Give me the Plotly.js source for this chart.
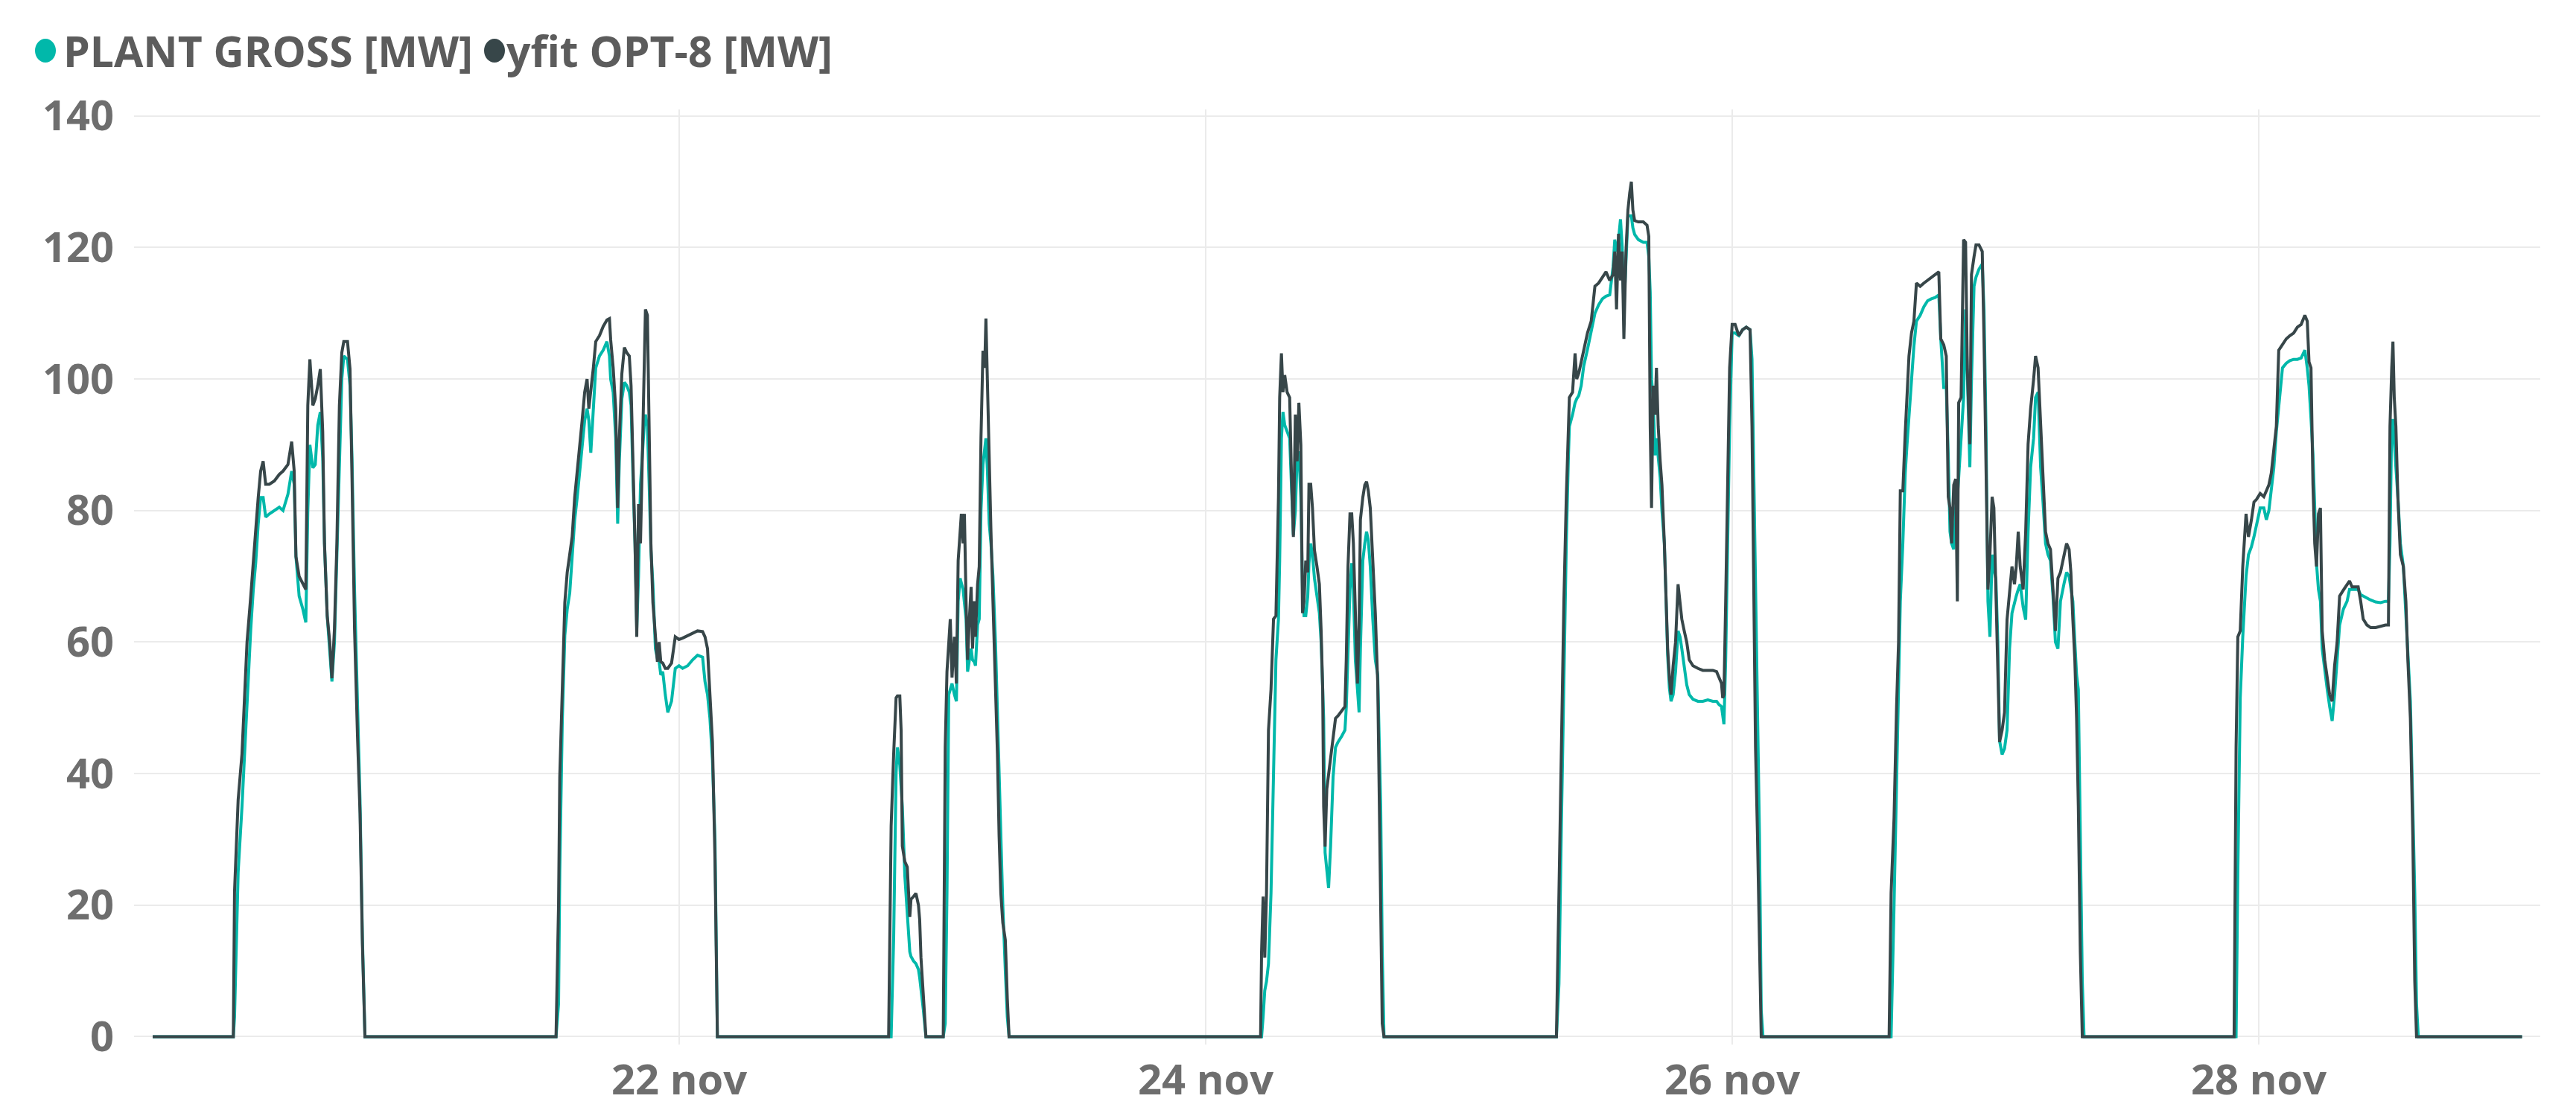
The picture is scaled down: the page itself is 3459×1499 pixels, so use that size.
<!DOCTYPE html>
<html>
<head>
<meta charset="utf-8">
<script src="https://cdn.plot.ly/plotly-3.0.1.min.js"></script>
<style>
  html, body { margin: 0; padding: 0; background: #ffffff; }
  #chart { width: 3459px; height: 1499px; }
</style>
</head>
<body>
<div id="chart"></div>
<script>
// ---- Data (hours since 20 Nov 00:00, values in MW) ----
const seriesNames = ["PLANT GROSS [MW]", "yfit OPT-8 [MW]"];
const tickDates = ["2023-11-22", "2023-11-24", "2023-11-26", "2023-11-28"];
const tickLabels = ["22 nov", "24 nov", "26 nov", "28 nov"];
const yTicks = [0, 20, 40, 60, 80, 100, 120, 140];

const day1Hours = [0,7.35,7.46,7.79,8.14,8.37,8.60,8.94,9.17,9.39,9.62,9.84,10.07,10.30,10.63,11.09,11.54,11.88,12.33,12.67,12.90,13.06,13.35,13.69,13.96,14.14,14.33,14.60,14.82,15.05,15.28,15.50,15.66,15.91,16.14,16.34,16.57,16.79,17.02,17.24,17.42,17.76,17.99,18.17,18.40,18.67,18.90,19.12,19.35];
const day1Yfit  = [0,0,22,36,43,52,60,67,73,77,82,86,87.5,84,84,84.5,85.5,86,87,90.5,86,73,70,69,68,96,103,96,97,99,101.5,92,75,64,60,54.5,62,75,96,104,105.7,105.7,101.5,85,62,45.7,34,14,0];
const day1Plant = [0,0,3,25,35,43,52,62,68,72,78,82,82,79,79.5,80,80.5,80,82.5,86,84,73,67,65,63,80,90,86.5,87,93,95,88,75,64,58,54,60,73,90,100,103.5,103,99,88,68,50,36,15,0];

const day2Hours = [36.77,37.00,37.11,37.34,37.57,37.79,38.02,38.24,38.47,38.70,38.92,39.15,39.38,39.60,39.76,39.94,40.17,40.39,40.73,41.07,41.41,41.64,41.75,41.98,42.21,42.39,42.54,42.77,43.00,43.22,43.45,43.61,43.79,43.97,44.13,44.29,44.47,44.69,44.81,44.92,45.10,45.26,45.42,45.60,45.83,46.01,46.17,46.32,46.50,46.73,46.96,47.30,47.64,47.98,48.31,48.77,49.22,49.67,50.13,50.35,50.58,50.80,51.03,51.26,51.48];
const day2Yfit  = [0,20,39.5,54.6,66,70.6,73,76,82,85.7,89,93.7,98,100,95.5,98,101.7,105.7,106.6,108,109,109.2,106,101.7,95.5,80.4,91,100.8,104.8,104,103.5,99,87.5,75,60.8,81,75,91,103.5,110.6,109.7,91,75,66,60.8,57,60,57,56.8,56,56,56.8,60.8,60.4,60.6,61,61.3,61.7,61.6,60.8,59,52,44.8,27,0];
const day2Plant = [0,5,25,48,61,65,67.5,72.4,78.6,82,85.7,89,93.7,95.5,93.7,88.8,96,101.7,103.5,104.4,105.7,103.5,100,98,91,78,87.5,97,99.5,99,98,96,84.8,75,62,70,84,91,93,94.6,92.8,84,74,68.8,59,57.5,57,55,55.5,52,49.3,51,56,56.4,56,56.4,57.3,58,57.7,54,52,48.4,42,30,0];

const day3Hours = [67.09,67.32,67.55,67.66,67.77,67.89,68.11,68.23,68.34,68.57,68.79,69.02,69.13,69.36,69.58,69.81,69.92,70.04,70.26,70.49,72.07,72.25,72.41,72.57,72.71,72.87,73.09,73.27,73.43,73.61,73.72,73.88,74.00,74.15,74.29,74.45,74.61,74.74,74.90,75.01,75.20,75.35,75.51,75.69,75.85,75.96,76.10,76.26,76.42,76.60,76.83,77.01,77.16,77.32,77.50,77.73,77.91,78.07];
const day3Yfit  = [0,32,43,47,51.5,51.8,51.8,46.6,29,26.6,25.8,18.2,20.9,21.3,21.8,20,17.8,12,6.7,0,0,44,55.5,60,63.5,54.6,60.8,53.7,72.4,76.8,79.5,75,79.5,66.2,57.3,63.5,68.4,59,66.2,60.8,68.8,71.5,91,104.3,101.7,109.2,99,84,76.8,66.2,53.7,43,30.6,21.8,17.3,14.7,5.8,0];
const day3Plant = [0,0,15,30.6,40,44,41.3,38,35,24.4,17.8,12.9,12.2,11.5,11.1,10.2,9,7.5,4,0,0,2,21.8,52,53,53.7,52,51,66.2,69.7,69,68,66,63.5,55.5,57,59,57.3,57,56.4,62.6,63.5,80,87,89,91,86,78,75,70,60,48.4,38,28,20,10,3,0];

const day4Hours = [101.00,101.09,101.23,101.38,101.54,101.72,101.95,102.18,102.40,102.63,102.74,102.90,103.04,103.20,103.42,103.65,103.81,103.99,104.17,104.33,104.49,104.67,104.82,104.96,105.12,105.30,105.41,105.57,105.73,105.91,106.14,106.36,106.52,106.66,106.75,106.88,107.04,107.20,107.38,107.61,107.83,108.06,108.40,108.69,108.81,108.97,109.15,109.31,109.46,109.64,109.83,109.98,110.10,110.32,110.50,110.66,110.82,111.00,111.23,111.46,111.68,111.84,111.95,112.09,112.25];
const day4Yfit  = [0,12.9,21.3,12,21.8,46.6,52.8,63.5,64,82,97.2,103.9,98,100.6,98,97.2,85.7,76,94.6,87.5,96.4,90,64.4,66.2,72.4,70.6,84,84,80.4,74,71.5,68.8,61.7,52.8,35,28.9,37.7,40,42.5,45,48.4,48.8,49.5,50.2,57.3,71.5,79.5,79.5,75,64.4,53.7,62.6,78.6,82,83.9,84.4,83,80.4,73.3,64.4,53.7,35,14.7,2,0];
const day4Plant = [0,0,3,7,8.4,11.1,21.8,39.5,57.3,63.5,72.4,91,95,93,91.9,91,84,76.3,80,88,89,82,68,64,64,67,72,75,73.3,69.7,67,64.4,60,54,48.4,28,25.3,22.6,28.9,39.5,44,44.8,45.7,46.6,50,57.3,68,72,68,57.3,52,49.3,59,72.4,75,76.8,75.5,71.5,63.5,57.3,55,45,35,12.9,0];

const day5Hours = [127.97,128.20,128.42,128.65,128.87,129.06,129.15,129.44,129.67,129.82,130.01,130.23,130.46,130.80,131.14,131.48,131.82,132.16,132.49,132.83,133.13,133.29,133.45,133.63,133.81,133.97,134.12,134.31,134.49,134.65,134.80,134.94,135.10,135.44,135.89,136.23,136.39,136.52,136.64,136.79,136.95,137.09,137.25,137.43,137.59,137.81,137.97,138.11,138.27,138.42,138.61,138.83,139.06,139.24,139.40,139.62,139.85,140.08,140.42,140.87,141.32,141.77,142.23,142.57,142.79,143.02,143.13,143.24,143.40,143.58,143.76,143.99,144.26,144.60,144.94,145.28,145.62,145.80,145.96,146.12,146.30,146.48,146.64,146.80];
const day5Yfit  = [0,21.8,44,66.2,82,92.8,97.2,98,103.9,100,100.9,102.6,104.4,107,108.8,114.1,114.6,115.5,116.3,115,115.9,119.4,110.6,122.1,115,119.4,106.1,119.4,125.7,128.3,130,125.7,124.1,123.9,123.9,123.4,121.7,92.8,80.4,99,94.6,101.7,92.8,87.5,83.9,75,66.2,59,54.6,52,56.4,60,68.8,66.2,63.5,61.7,60,57.3,56.4,56,55.7,55.7,55.7,55.5,54.6,53.7,51.5,52,66.2,85.7,101.7,108.3,108.3,106.6,107.5,107.9,107.5,92.8,66.2,44,30.6,15.5,0,0];
const day5Plant = [0,8,32,55,75,88,92.8,94.6,96.4,97,97.5,99,102,104.5,107.5,110,111.3,112.2,112.6,112.8,117,121.2,119.4,121.2,124.3,120,110.6,119.4,124.8,124.8,124.8,123,122,121.2,120.8,120.8,118.6,113.2,100,97.2,88.4,91,88.4,85,80,75,66.2,58,53,51,52,55.5,61.7,60.8,59,56.5,53.5,52,51.3,51,51,51.2,51,51,50.5,50.2,49,47.5,57.3,78.6,92.8,107,107,106.6,107.5,107.9,107.5,103,85,66.2,52.8,30.6,4,0];

const day6Hours = [158.30,158.48,158.75,158.98,159.16,159.32,159.55,159.77,159.93,160.11,160.34,160.56,160.79,161.13,161.47,161.81,162.15,162.49,162.83,163.01,163.28,163.51,163.69,163.85,164.00,164.19,164.37,164.52,164.64,164.86,165.09,165.27,165.43,165.66,165.81,166.04,166.22,166.49,166.79,166.95,167.13,167.31,167.49,167.69,167.85,168.03,168.21,168.37,168.60,168.82,169.05,169.28,169.50,169.73,169.89,170.07,170.25,170.52,170.75,170.97,171.20,171.47,171.65,171.88,172.11,172.33,172.56,172.78,173.01,173.24,173.46,173.69,173.92,174.26,174.48,174.71,174.87,175.05,175.23,175.39,175.55,175.73,175.91,176.07];
const day6Yfit  = [0,21.8,33.3,50.2,60,83,83,91.9,98,103.5,107,108.8,114.6,114.1,114.6,115,115.5,115.9,116.3,106.1,105.2,103.5,82.1,80.4,75,83.9,84.8,66.2,96.4,97.2,121.2,120.8,101.7,90.1,115.9,118.6,120.4,120.4,119.4,106.1,83.9,68,73.3,82.1,80.4,67,52.8,44.8,46.6,49.3,63.4,67,71.5,68.8,71.5,76.8,71.5,68,76.8,90.1,95.5,99.9,103.5,101.7,92.8,86.6,76.8,75,74.1,68,61.7,69.7,70.6,73.3,75,74.1,70.6,63.4,57.3,48.4,35,12.9,0,0];
const day6Plant = [0,0,20,38,55,66.2,75,85.7,90,94.5,100,105,108.8,109.7,111,111.9,112.2,112.4,112.8,106.1,98.7,98.7,88.4,76.8,75,74.1,80.4,82.1,85,91,97.2,110.6,101.7,86.6,99.9,114.1,115.5,116.7,117.5,110.6,92.8,66.2,60.8,73.3,71,69.7,60,45,42.9,43.8,46.6,59,64.4,66.2,67,68,68.8,65.3,63.4,76.8,86.6,91,97.2,98,86.6,81.3,75,73.3,72.4,67,60,59,66.2,69,70.6,70,68,66.2,60,55,52.8,30.6,8.4,0];

const day7Hours = [189.75,189.93,190.09,190.31,190.54,190.84,191.06,191.33,191.56,191.79,192.13,192.46,192.69,192.92,193.14,193.37,193.60,193.82,194.16,194.50,194.84,195.18,195.52,195.86,196.20,196.42,196.58,196.76,196.94,197.10,197.26,197.44,197.62,197.78,198.01,198.24,198.46,198.69,198.91,199.14,199.37,199.71,200.05,200.27,200.50,200.84,201.06,201.29,201.52,201.86,202.20,202.65,203.10,203.55,203.82,203.96,204.12,204.23,204.35,204.50,204.68,204.91,205.18,205.41,205.59,205.82,206.04,206.22,206.38,206.54,216];
const day7Yfit  = [0,44,60.8,61.7,71.5,79.5,76,78.6,81.3,81.7,82.6,82.1,83,83.9,85.7,89.3,92.8,104.4,105.2,106.1,106.6,107,107.9,108.3,109.7,108.8,102.6,101.7,83.9,75,71.5,79.5,80.4,61.7,57.3,54.6,52,51,56.4,59.9,67,67.9,68.8,69.3,68.4,68.4,68.4,66.2,63.5,62.6,62.2,62.2,62.4,62.6,62.6,92.8,101.7,105.7,97.2,92.8,82.1,73.3,71.5,66.2,57.3,48.4,30.6,8.4,0,0,0];
const day7Plant = [0,0,25,51.5,60.8,70,73.3,74.5,76,77.8,80.4,80.4,78.6,80,83,86.5,92,96,101.7,102.4,102.8,103,103,103.2,104.4,101.7,99,94,88.5,80.4,72,68,66.2,59,55.5,52.8,50.2,48,52,57.3,62.6,65,66.2,68,68,68,68,67.2,67,66.6,66.4,66.1,66,66.2,66.2,75,93.7,93.7,90,86.6,82.1,75,71.5,64.4,59,51,35,21.8,5,0,0];

// ---- Build the series ----
const t0 = Date.UTC(2023, 10, 20);
function toDate(h) {
  return new Date(t0 + h * 3600000).toISOString().replace('T', ' ').slice(0, 19);
}
const allHours = [].concat(day1Hours, day2Hours, day3Hours, day4Hours, day5Hours, day6Hours, day7Hours);
const allYfit  = [].concat(day1Yfit, day2Yfit, day3Yfit, day4Yfit, day5Yfit, day6Yfit, day7Yfit);
const allPlant = [].concat(day1Plant, day2Plant, day3Plant, day4Plant, day5Plant, day6Plant, day7Plant);
const xDates = allHours.map(toDate);

const colPlant = '#01B8AA';
const colYfit = '#374649';

const traces = [
  { x: xDates, y: allPlant, name: seriesNames[0], type: 'scatter', mode: 'lines',
    line: { color: colPlant, width: 4 }, hoverinfo: 'skip' },
  { x: xDates, y: allYfit, name: seriesNames[1], type: 'scatter', mode: 'lines',
    line: { color: colYfit, width: 4 }, hoverinfo: 'skip' }
];

// plot area geometry (pixels)
const W = 3459, H = 1499;
const mL = 180, mR = 48, mT = 147, mB = 96;
const pw = W - mL - mR, ph = H - mT - mB;
function px2paperX(px) { return (px - mL) / pw; }
function px2paperY(py) { return (H - mB - py) / ph; }

const tickFont = { family: 'Open Sans, Noto Sans, sans-serif', size: 56, color: '#6e6e6e', weight: 'bold' };
const legFont = { family: 'Open Sans, Noto Sans, sans-serif', size: 57, color: '#5c5c5c', weight: 'bold' };

const layout = {
  width: W, height: H,
  margin: { l: mL, r: mR, t: mT, b: mB, pad: 0 },
  paper_bgcolor: '#ffffff', plot_bgcolor: '#ffffff',
  showlegend: false,
  xaxis: {
    type: 'date',
    range: [toDate(-1.70), toDate(217.66)],
    tickmode: 'array', tickvals: tickDates, ticktext: tickLabels,
    showgrid: true, gridcolor: '#ebebeb', gridwidth: 2,
    zeroline: false, showline: false, ticks: '',
    tickfont: tickFont, ticklabelstandoff: 10
  },
  yaxis: {
    range: [-1.2, 141],
    tickmode: 'array', tickvals: yTicks,
    showgrid: true, gridcolor: '#ebebeb', gridwidth: 2,
    zeroline: false, showline: false, ticks: '',
    tickfont: tickFont, ticklabelstandoff: 26
  },
  shapes: [
    { type: 'circle', xref: 'paper', yref: 'paper', xsizemode: 'pixel', ysizemode: 'pixel',
      xanchor: px2paperX(61), yanchor: px2paperY(68), x0: -14, x1: 14, y0: -16, y1: 16,
      fillcolor: colPlant, line: { width: 0 } },
    { type: 'circle', xref: 'paper', yref: 'paper', xsizemode: 'pixel', ysizemode: 'pixel',
      xanchor: px2paperX(664), yanchor: px2paperY(68), x0: -14, x1: 14, y0: -16, y1: 16,
      fillcolor: colYfit, line: { width: 0 } }
  ],
  annotations: [
    { xref: 'paper', yref: 'paper', x: px2paperX(84), y: px2paperY(68), xanchor: 'left', yanchor: 'middle',
      text: seriesNames[0], showarrow: false, font: legFont, borderpad: 0 },
    { xref: 'paper', yref: 'paper', x: px2paperX(679), y: px2paperY(68), xanchor: 'left', yanchor: 'middle',
      text: seriesNames[1], showarrow: false, font: legFont, borderpad: 0 }
  ]
};

Plotly.newPlot('chart', traces, layout, { displayModeBar: false, staticPlot: true });
</script>
</body>
</html>
